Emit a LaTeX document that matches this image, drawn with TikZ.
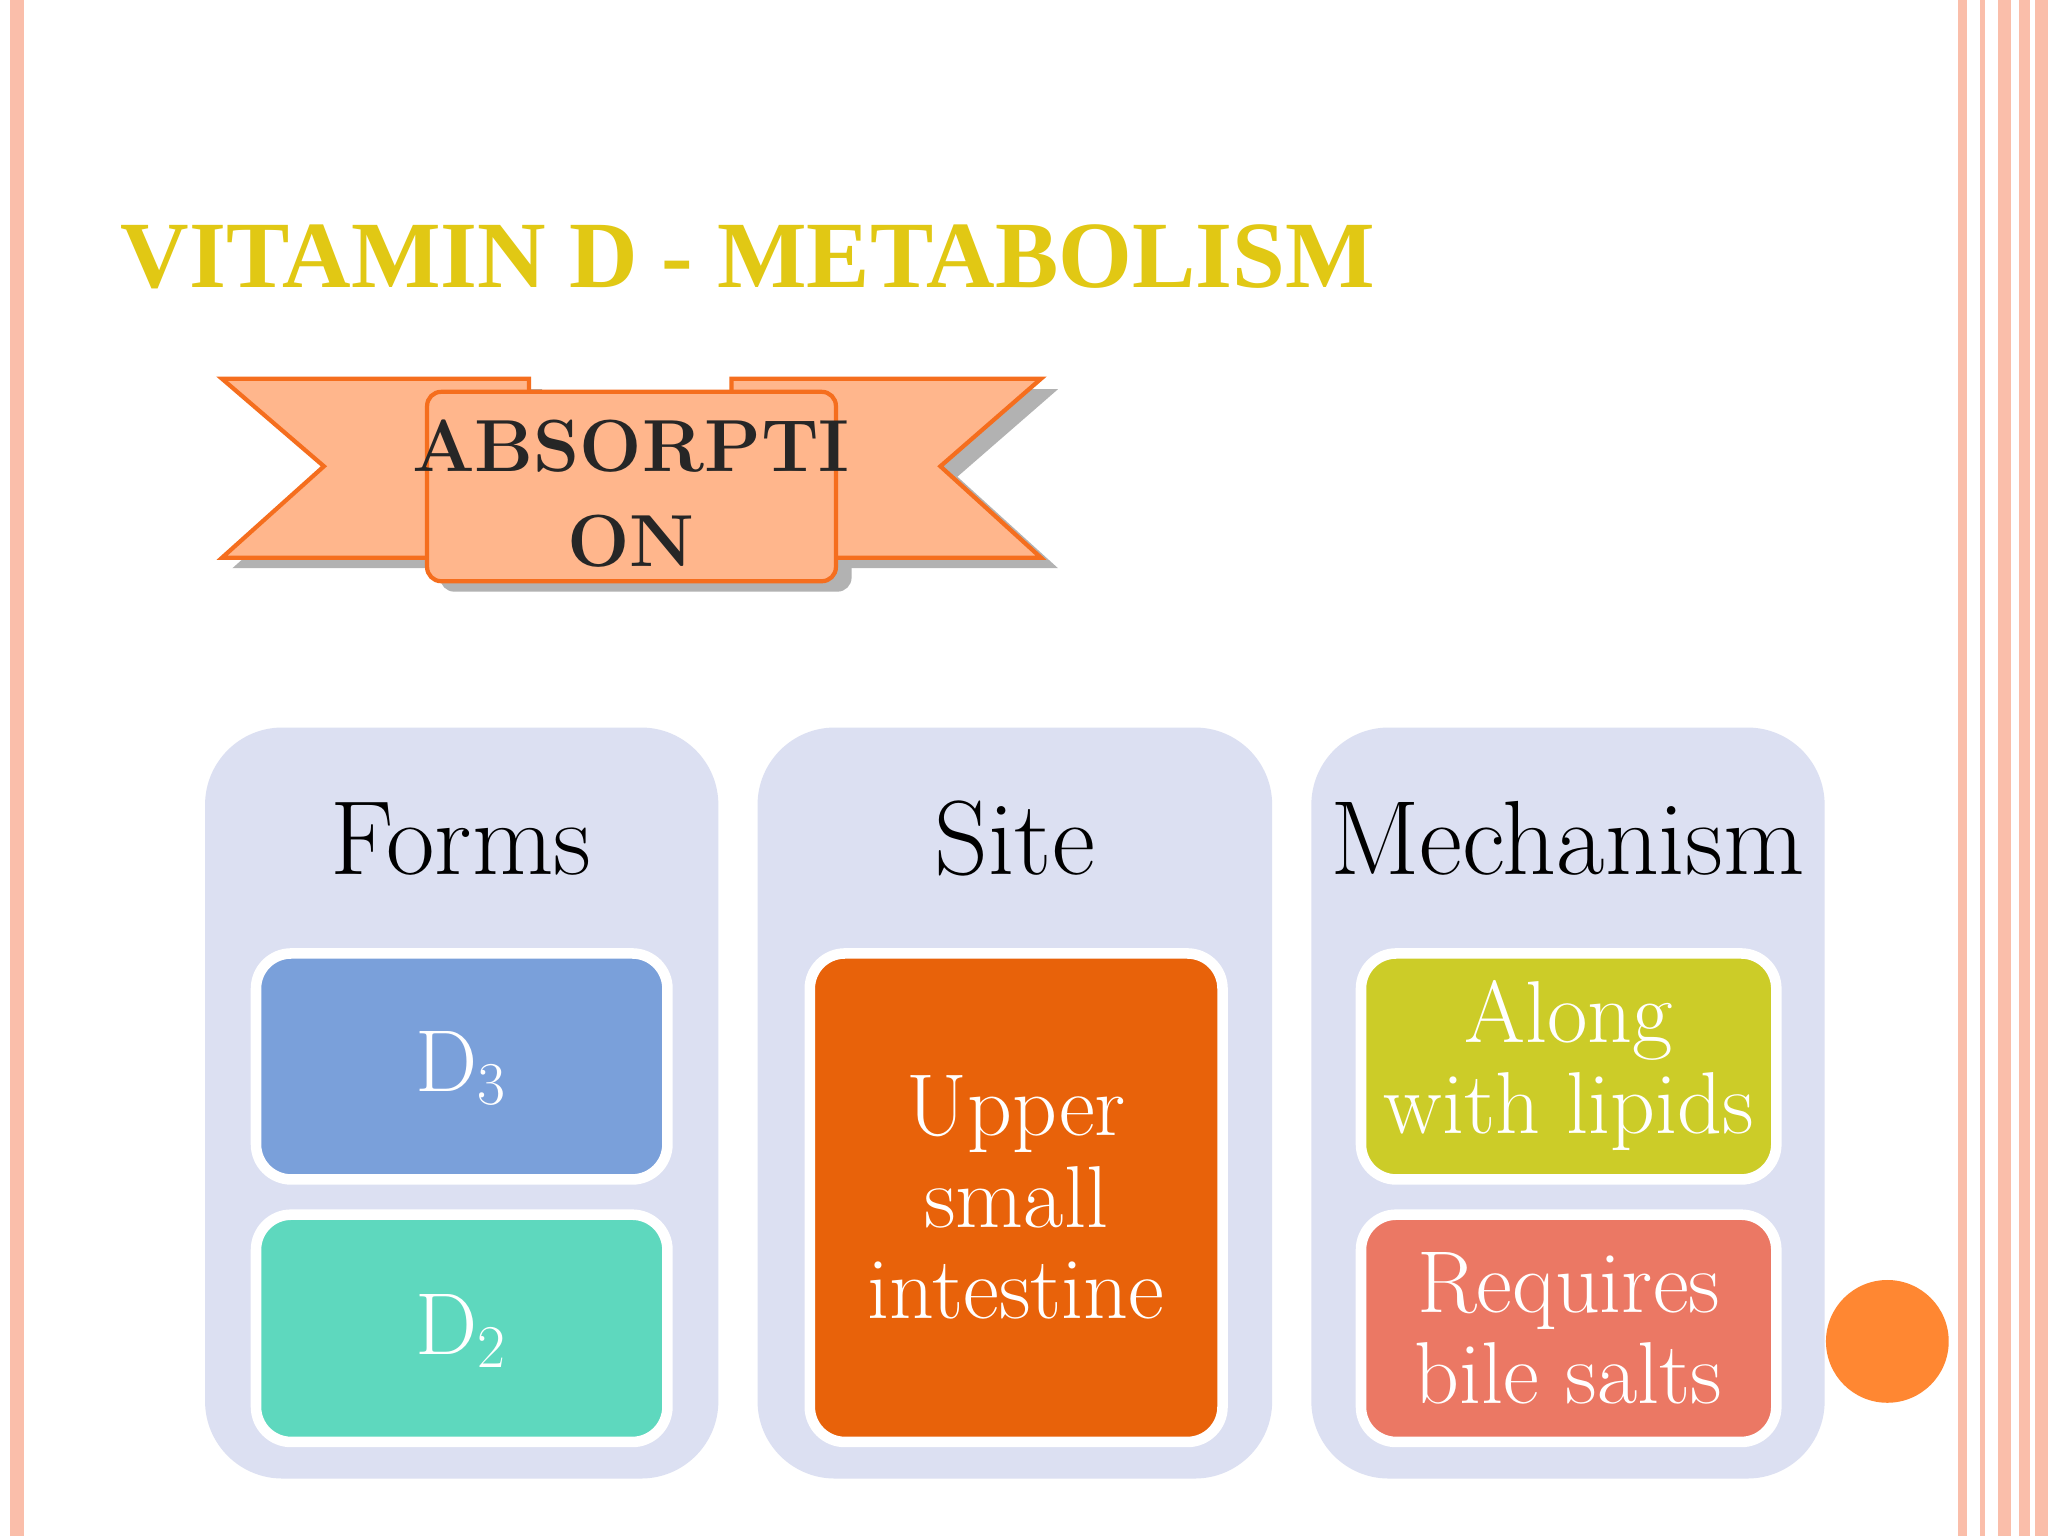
\documentclass[tikz,border=0pt]{standalone}
\usepackage{fontspec}
\newfontfamily\titlefont{Liberation Serif}
\begin{document}
\begin{tikzpicture}[x=0.013061cm,y=-0.013061cm]
\definecolor{pinkb}{RGB}{250,190,170}
\definecolor{peach}{RGB}{255,182,140}
\definecolor{orl}{RGB}{245,110,30}
\definecolor{panel}{RGB}{220,224,242}
\definecolor{cblue}{RGB}{122,160,218}
\definecolor{cteal}{RGB}{94,216,190}
\definecolor{corange}{RGB}{232,98,10}
\definecolor{cyel}{RGB}{204,204,40}
\definecolor{csal}{RGB}{235,120,100}
\definecolor{gold}{RGB}{225,200,20}
\definecolor{circ}{RGB}{255,135,50}
\tikzset{
 panelbox/.style={fill=panel,rounded corners=22pt},
 inbox/.style={draw=white,line width=3pt,rounded corners=10pt},
 intext/.style={text=white,align=center,font=\fontsize{25}{26}\selectfont},
 head/.style={font=\fontsize{30}{32}\selectfont}
}
\useasboundingbox (0,0) rectangle (1568,1176);
\fill[white] (0,0) rectangle (1568,1176);
\fill[pinkb] (8,0) rectangle (18,1176);
\fill[pinkb] (1499,0) rectangle (1506,1176);
\fill[pinkb] (1516,0) rectangle (1520,1176);
\fill[pinkb] (1530,0) rectangle (1568,1176);
\fill[white] (1540,0) rectangle (1546,1176);
\fill[white] (1554,0) rectangle (1558,1176);
\node[anchor=south west,inner sep=0,text=gold,font=\titlefont\bfseries\fontsize{27}{30}\selectfont] (title) at (92,222) {VITAMIN D - METABOLISM};
% ribbon shadow
\fill[gray!60] (178,298)--(415,298)--(415,435)--(178,435)--(256,365)--cycle;
\fill[gray!60] (570,298)--(810,298)--(733,365)--(810,435)--(650,435)--cycle;
\fill[gray!60,rounded corners=4pt] (337,310) rectangle (652,453);
\draw[orl,fill=peach,line width=1.2pt] (170,290)--(405,290)--(405,427)--(170,427)--(248,357)--cycle;
\draw[orl,fill=peach,line width=1.2pt] (560,290)--(797,290)--(720,357)--(797,427)--(640,427)--(560,427)--cycle;
\draw[orl,fill=peach,line width=1.2pt,rounded corners=4pt] (327,300) rectangle (640,445);
\node[align=center,text=black!85,font=\bfseries\fontsize{21}{27}\selectfont] (abs) at (483,378) {ABSORPTI\\ON};
% panels
\fill[panelbox] (157,557) rectangle (550,1132);
\fill[panelbox] (580,557) rectangle (974,1132);
\fill[panelbox] (1004,557) rectangle (1397,1132);
\node[head] (h1) at (353,642) {Forms};
\node[head] (h2) at (777,642) {Site};
\node[head] (h3) at (1200,642) {Mechanism};
\draw[inbox,fill=cblue] (196,730) rectangle (511,903);
\draw[inbox,fill=cteal] (196,930) rectangle (511,1104);
\draw[inbox,fill=corange] (620,730) rectangle (936,1104);
\draw[inbox,fill=cyel] (1042,730) rectangle (1360,903);
\draw[inbox,fill=csal] (1042,930) rectangle (1360,1104);
\node[intext] (d3) at (353,818) {D$_3$};
\node[intext] (d2) at (353,1019) {D$_2$};
\node[intext] (site) at (778,917) {Upper\\small\\intestine};
\node[intext] (m1) at (1201,816) {Along\\with lipids};
\node[intext] (m2) at (1201,1017) {Requires\\bile salts};
\fill[circ] (1445,1027) circle (47);
\end{tikzpicture}
\end{document}
